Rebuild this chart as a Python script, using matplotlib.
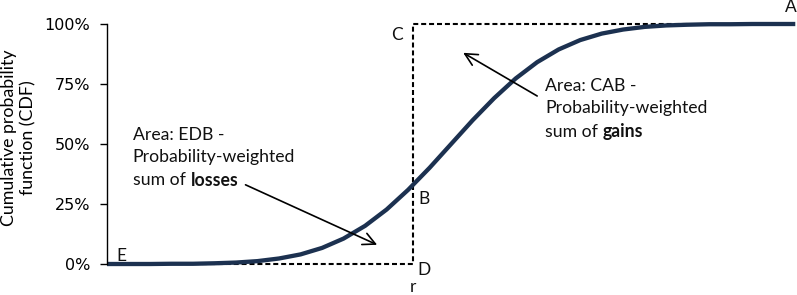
import matplotlib
matplotlib.use("Agg")
import matplotlib.pyplot as plt
from matplotlib.ticker import PercentFormatter

plt.rcParams['font.family'] = ['Lato', 'DejaVu Sans']

# cdf curve
cdf_x = [-4.0, -3.75, -3.5, -3.25, -3.0, -2.75, -2.5, -2.25, -2.0, -1.75, -1.5,
         -1.25, -1.0, -0.75, -0.5, -0.25, 0.0, 0.25, 0.5, 0.75, 1.0, 1.25, 1.5,
         1.75, 2.0, 2.25, 2.5, 2.75, 3.0, 3.25, 3.5, 3.75, 4.0]
cdf_y = [0.0, 0.0, 0.0, 0.001, 0.001, 0.003, 0.006, 0.012, 0.023, 0.04, 0.067,
         0.106, 0.159, 0.227, 0.309, 0.401, 0.5, 0.599, 0.691, 0.773, 0.841,
         0.894, 0.933, 0.96, 0.977, 0.988, 0.994, 0.997, 0.999, 0.999, 1.0,
         1.0, 1.0]

# dashed box E-D-C
r = -0.44
box_x = [-4.0, r, r, 2.78]
box_y = [0.0, 0.0, 1.0, 1.0]

yticks = [0, 0.25, 0.5, 0.75, 1.0]

fig = plt.figure(figsize=(7.97, 2.95), dpi=100)
ax = fig.add_axes([107 / 797, 31 / 295, 1 - 107 / 797, 240 / 295])

ax.plot(box_x, box_y, color='black', lw=1.5, ls=(0, (2.4, 1.4)), clip_on=False)
ax.plot(cdf_x, cdf_y, color='#1c3150', lw=3.1, clip_on=False,
        solid_capstyle='butt', solid_joinstyle='round')

ax.set_xlim(-4, 4.02)
ax.set_ylim(0, 1)
ax.set_yticks(yticks)
ax.yaxis.set_major_formatter(PercentFormatter(1.0, decimals=0))
ax.tick_params(axis='y', direction='out', length=5, width=1, pad=7,
               labelsize=11.5)
for t in ax.get_yticklabels():
    t.set_family('DejaVu Sans')
ax.set_xticks([])
for s in ['top', 'right', 'bottom']:
    ax.spines[s].set_visible(False)
ax.spines['left'].set_linewidth(1)

# y label as a figure text so both lines stay on the canvas
fig.text(19 / 797, 1 - 138 / 295, 'Cumulative probability\nfunction (CDF)',
         rotation=90, ha='center', va='center', fontsize=12.8,
         linespacing=1.25, multialignment='center')

# point labels
lab = dict(fontsize=12.5, color='#111111', ha='center', va='center')
ax.text(3.95, 1.07, 'A', **lab)
ax.text(-0.63, 0.955, 'C', **lab)
ax.text(-0.31, 0.27, 'B', **lab)
ax.text(-0.31, -0.025, 'D', **lab)
ax.text(-3.83, 0.035, 'E', **lab)
ax.text(r, -0.095, 'r', **lab)

# annotations
txt = dict(fontsize=12.7, color='#111111', va='center')
ax.text(-3.70, 0.537, 'Area: EDB -', ha='left', **txt)
ax.text(-3.70, 0.445, 'Probability-weighted', ha='left', **txt)
t1 = ax.text(-3.70, 0.35, 'sum of', ha='left', **txt)
ax.annotate('losses', xy=(1, 0.5), xycoords=t1, xytext=(3.5, 0),
            textcoords='offset points', fontweight='bold', **txt)

ax.text(1.09, 0.742, 'Area: CAB -', ha='left', **txt)
ax.text(1.09, 0.65, 'Probability-weighted', ha='left', **txt)
t2 = ax.text(1.09, 0.55, 'sum of', ha='left', **txt)
ax.annotate('gains', xy=(1, 0.5), xycoords=t2, xytext=(3.5, 0),
            textcoords='offset points', fontweight='bold', **txt)

arrow = dict(arrowstyle='->', color='black', lw=1.2, mutation_scale=22,
             shrinkA=0, shrinkB=0)
ax.annotate('', xy=(-0.86, 0.08), xytext=(-2.39, 0.33), arrowprops=arrow)
ax.annotate('', xy=(0.14, 0.88), xytext=(1.0, 0.70), arrowprops=arrow)

fig.savefig('out.png', dpi=100)
